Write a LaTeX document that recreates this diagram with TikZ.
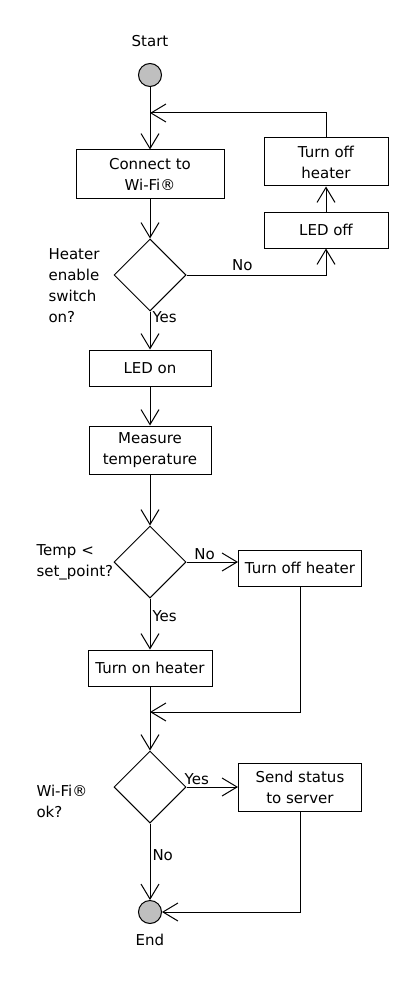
\documentclass[tikz,border=0pt]{standalone}
\usepackage{fontspec}
\setmainfont{DejaVu Sans}
\usetikzlibrary{shapes.geometric,arrows.meta}

\begin{document}
\begin{tikzpicture}[x=1pt,y=-1pt,
    every node/.style={font=\fontsize{15}{21}\selectfont},
    box/.style={draw,rectangle,line width=1pt,align=center,inner sep=2pt},
    decision/.style={draw,diamond,aspect=1,minimum width=72pt,minimum height=72pt,inner sep=0pt,line width=1pt},
    terminal/.style={draw,circle,fill=black!25,minimum size=23pt,inner sep=0pt,line width=1pt},
    flow/.style={line width=1pt,-{Straight Barb[length=15pt,width=18pt]}}]
  \useasboundingbox (0,0) rectangle (412,987);

  % start and first loop
  \node (startlbl) at (150,41) {Start};
  \node [terminal] (start) at (150,75) {};
  \coordinate (loop) at (150,113);
  \node [box,minimum width=148pt,minimum height=48pt] (connect) at (150,174) {Connect to\\Wi-Fi®};
  \node [box,minimum width=124pt,minimum height=48pt] (heateroff) at (326,162) {Turn off\\heater};
  \node [box,minimum width=124pt,minimum height=36pt] (ledoff) at (326,230) {LED off};
  \node [decision] (enable) at (150,275) {};
  \node [anchor=west,align=left] (enableq) at (45,286) {Heater\\enable\\switch\\on?};
  \node [box,minimum width=122pt,minimum height=36pt] (ledon) at (150,368) {LED on};
  \node [box,minimum width=122pt,minimum height=48pt] (measure) at (150,450) {Measure\\temperature};

  % temperature check
  \node [decision] (temp) at (150,562) {};
  \node [anchor=west,align=left] (tempq) at (33,562) {Temp <\\set\_point?};
  \node [box,minimum width=123pt,minimum height=36pt] (heateroff2) at (300,568) {Turn off heater};
  \node [box,minimum width=124pt,minimum height=36pt] (heateron) at (150,668) {Turn on heater};
  \coordinate (join) at (150,712);

  % wifi check
  \node [decision] (wifi) at (150,787) {};
  \node [anchor=west,align=left] (wifiq) at (33,801) {Wi-Fi®\\ok?};
  \node [box,minimum width=123pt,minimum height=48pt] (send) at (300,787) {Send status\\to server};
  \node [terminal] (end) at (150,912) {};
  \node (endlbl) at (150,940) {End};

  \draw [flow] (start) -- (connect);
  \draw [flow] (heateroff.north) |- (loop);
  \draw [flow] (connect) -- (enable);
  \draw [flow] (enable.east) -| node [above,pos=0.2] {No} (ledoff.south);
  \draw [flow] (ledoff) -- (heateroff);
  \draw [flow] (enable) -- node [right,pos=0.16,inner sep=2pt] {Yes} (ledon);
  \draw [flow] (ledon) -- (measure);
  \draw [flow] (measure) -- (temp);
  \draw [flow] (temp.east) -- node [above,pos=0.35,inner sep=2pt] {No} (temp.east -| heateroff2.west);
  \draw [flow] (temp) -- node [right,pos=0.35,inner sep=2pt] {Yes} (heateron);
  \draw [flow] (heateron) -- (wifi);
  \draw [flow] (heateroff2.south) |- (join);
  \draw [flow] (wifi.east) -- node [above,pos=0.2,inner sep=2pt] {Yes} (send);
  \draw [flow] (wifi) -- node [right,pos=0.41,inner sep=2pt] {No} (end);
  \draw [flow] (send.south) |- (end.east);
\end{tikzpicture}
\end{document}
